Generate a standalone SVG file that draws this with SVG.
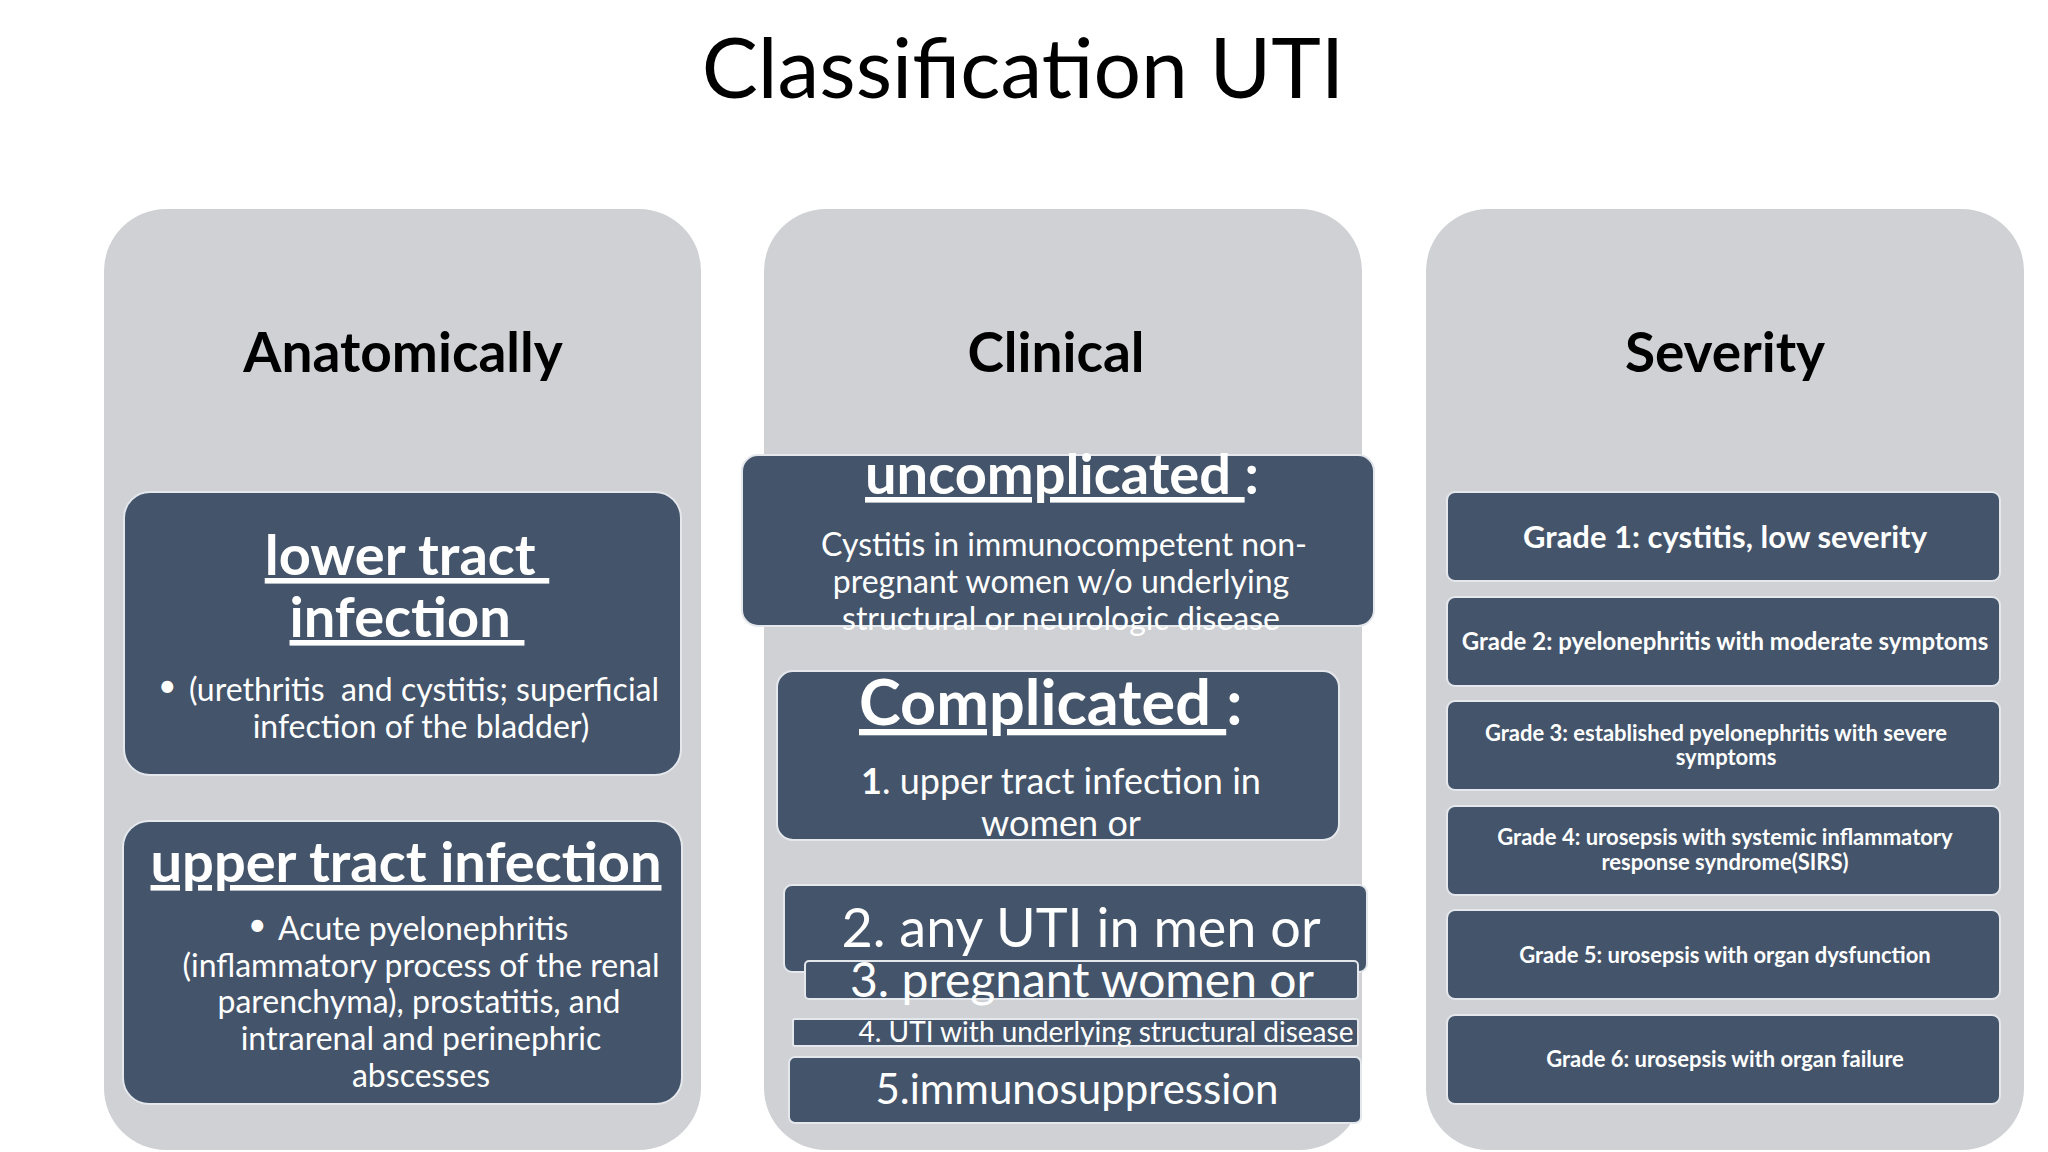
<svg xmlns="http://www.w3.org/2000/svg" width="2048" height="1152" viewBox="0 0 2048 1152">
<style>
text{font-family:Lato,"Liberation Sans",sans-serif;}
.panel{fill:#cfd1d5;}
.box{fill:#44546a;stroke:#e4e7ec;stroke-width:2;}
.title{font-size:84px;fill:#000;text-anchor:middle;}
.head{font-size:55px;font-weight:700;fill:#000;text-anchor:middle;}
.w{fill:#fff;}
.mid{text-anchor:middle;}
.big{font-size:56px;font-weight:700;}
.body{font-size:32px;}
.u{text-decoration:underline;}
.g1{font-size:31px;font-weight:700;}
.g{font-size:22px;font-weight:700;}
.g2{font-size:24px;font-weight:700;}
.pre{white-space:pre;}
</style>
<rect width="2048" height="1152" fill="#fff"/>
<text class="title" x="1023" y="98">Classification UTI</text>

<g id="col-anatomically">
<rect class="panel" x="104" y="209" width="597" height="941" rx="62"/>
<text class="head" x="403" y="372">Anatomically</text>
</g>
<g id="lower-tract">
<rect class="box" x="124" y="492" width="557" height="283" rx="26"/>
<text class="w mid big" x="407" y="575"><tspan class="u">lower tract&#160;</tspan></text>
<text class="w mid big" x="407" y="637"><tspan class="u">infection&#160;</tspan></text>
<text class="w body" x="158" y="697">•</text>
<text class="w body pre" x="189" y="701">(urethritis&#160; and cystitis; superficial</text>
<text class="w mid body" x="421" y="738">infection of the bladder)</text>
</g>
<g id="upper-tract">
<rect class="box" x="123" y="821" width="559" height="283" rx="26"/>
<text class="w mid big" x="406" y="882"><tspan class="u">upper tract infection</tspan></text>
<text class="w body" x="248" y="936">•</text>
<text class="w body" x="278" y="940">Acute pyelonephritis</text>
<text class="w mid body" x="421" y="977">(inflammatory process of the renal</text>
<text class="w mid body" x="419" y="1013">parenchyma), prostatitis, and</text>
<text class="w mid body" x="421" y="1050">intrarenal and perinephric</text>
<text class="w mid body" x="421" y="1087">abscesses</text>
</g>

<g id="col-clinical">
<rect class="panel" x="764" y="209" width="598" height="941" rx="62"/>
<text class="head" x="1056" y="372">Clinical</text>
</g>
<g id="uncomplicated">
<rect class="box" x="742" y="455" width="632" height="171" rx="16"/>
<text class="w big" x="865" y="494"><tspan class="u">uncomplicated&#160;</tspan><tspan>:</tspan></text>
<text class="w mid body" x="1064" y="556">Cystitis in immunocompetent non-</text>
<text class="w mid body" x="1061" y="593">pregnant women w/o underlying</text>
<text class="w mid body" x="1061" y="630">structural or neurologic disease</text>
</g>
<g id="complicated">
<rect class="box" x="777" y="671" width="562" height="169" rx="16"/>
<text class="w" x="859" y="725" font-size="63" font-weight="700"><tspan class="u">Complicated&#160;</tspan><tspan>:</tspan></text>
<text class="w mid" x="1061" y="794" font-size="36"><tspan font-weight="700">1</tspan>. upper tract infection in</text>
<text class="w mid" x="1061" y="836" font-size="36">women or</text>
</g>
<g id="c2">
<rect class="box" x="784" y="885" width="583" height="87" rx="8"/>
<text class="w mid" x="1081" y="947" font-size="54">2. any UTI in men or</text>
</g>
<g id="c3">
<rect class="box" x="805" y="961" width="553" height="38" rx="4"/>
<text class="w mid" x="1082" y="997" font-size="48">3. pregnant women or</text>
</g>
<g id="c4">
<rect class="box" x="793" y="1019" width="565" height="27" rx="2"/>
<text class="w mid" x="1106" y="1042" font-size="28">4. UTI with underlying structural disease</text>
</g>
<g id="c5">
<rect class="box" x="789" y="1057" width="572" height="66" rx="6"/>
<text class="w mid" x="1077" y="1104" font-size="42">5.immunosuppression</text>
</g>

<g id="col-severity">
<rect class="panel" x="1426" y="209" width="598" height="941" rx="62"/>
<text class="head" x="1725" y="372">Severity</text>
</g>
<g id="grade1">
<rect class="box" x="1447" y="492" width="553" height="89" rx="8"/>
<text class="w mid g1" x="1725" y="548">Grade 1: cystitis, low severity</text>
</g>
<g id="grade2">
<rect class="box" x="1447" y="597" width="553" height="89" rx="8"/>
<text class="w mid g2" x="1725" y="650">Grade 2: pyelonephritis with moderate symptoms</text>
</g>
<g id="grade3">
<rect class="box" x="1447" y="701" width="553" height="89" rx="8"/>
<text class="w mid g" x="1716" y="741">Grade 3: established pyelonephritis with severe</text>
<text class="w mid g" x="1726" y="765">symptoms</text>
</g>
<g id="grade4">
<rect class="box" x="1447" y="806" width="553" height="89" rx="8"/>
<text class="w mid g" x="1725" y="845">Grade 4: urosepsis with systemic inflammatory</text>
<text class="w mid g" x="1725" y="870">response syndrome(SIRS)</text>
</g>
<g id="grade5">
<rect class="box" x="1447" y="910" width="553" height="89" rx="8"/>
<text class="w mid g" x="1725" y="963">Grade 5: urosepsis with organ dysfunction</text>
</g>
<g id="grade6">
<rect class="box" x="1447" y="1015" width="553" height="89" rx="8"/>
<text class="w mid g" x="1725" y="1067">Grade 6: urosepsis with organ failure</text>
</g>
<g id="connectors"></g>
</svg>
